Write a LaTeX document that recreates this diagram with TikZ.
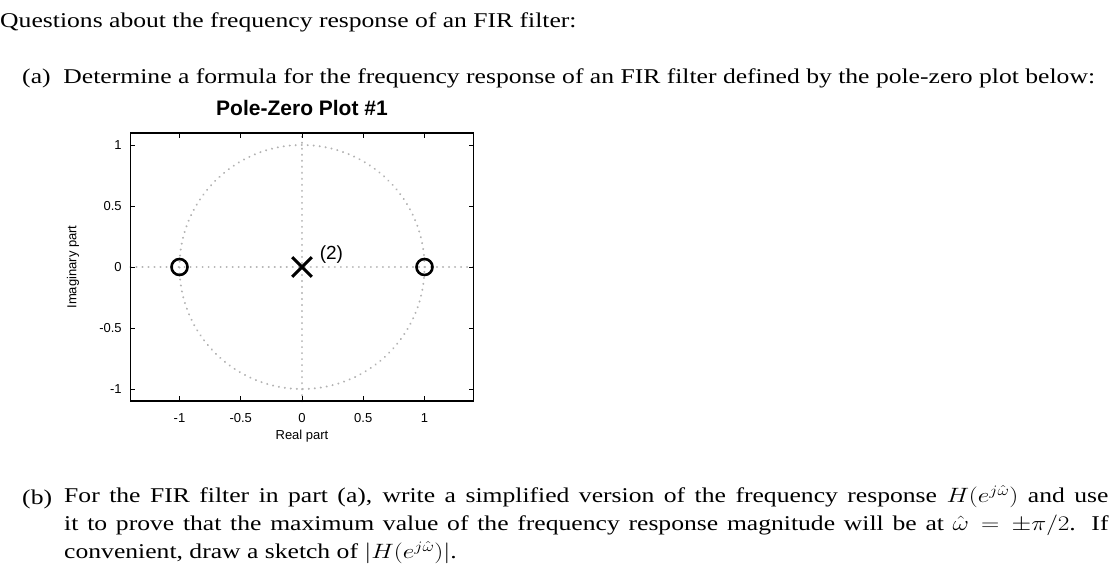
\documentclass[tikz,border=0pt]{standalone}
\usepackage{fontspec}
\setmainfont{Liberation Serif}
\newfontfamily\plotfont{Liberation Sans}
\begin{document}
\begin{tikzpicture}[x=1pt,y=-1pt,
  body/.style={inner sep=0pt,anchor=base west,font=\fontsize{21}{28}\selectfont,xscale=1.22,transform shape},
  tick/.style={font=\plotfont\fontsize{13}{15}\selectfont,inner sep=0pt},
  grid/.style={gray!60,line width=2.2pt,dash pattern=on 0.01pt off 6pt,line cap=round}]
\useasboundingbox (0,0) rectangle (1114,575);
\node[body] (q) at (0,28) {Questions about the frequency response of an FIR filter:};
\node[body] (a) at (22,84) {(a)\hspace{0.5em}Determine a formula for the frequency response of an FIR filter defined by the pole-zero plot below:};
\node[font=\plotfont\bfseries\fontsize{21}{24}\selectfont,inner sep=0pt] (title) at (302,108) {Pole-Zero Plot \#1};
% axes: center (302,267), scale 122.5
\begin{scope}[shift={(302,267)},x=122.5pt,y=122pt]
 \draw[grid] (0,0) circle (1);
 \draw[grid] (-1.4,0) -- (1.4,0);
 \draw[grid] (0,-1.1) -- (0,1.1);
 \draw[line width=1.5pt] (-1.4,-1.1) rectangle (1.4,1.1);
 \foreach \v in {-1,-0.5,0,0.5,1}{
   \draw[line width=0.8pt] (\v,-1.1) -- ++(0,0.04) (\v,1.1) -- ++(0,-0.04);
   \draw[line width=0.8pt] (-1.4,\v) -- ++(0.04,0) (1.4,\v) -- ++(-0.04,0);
   \node[tick] at (\v,-1.24) {\v};
   \node[tick,anchor=east] at (-1.47,\v) {\v};
 }
 \node[tick] (xl) at (0,-1.39) {Real part};
 \node[tick,rotate=90] (yl) at (-1.87,0) {Imaginary part};
 \draw[line width=2.6pt] (-1,0) circle (8pt) (1,0) circle (8pt);
 \draw[line width=3pt] (-0.08,-0.08) -- (0.08,0.08) (-0.08,0.08) -- (0.08,-0.08);
 \node[font=\plotfont\fontsize{19}{22}\selectfont,inner sep=0pt] (m) at (0.24,0.1) {(2)};
\end{scope}
\node[body] (b) at (22,504) {(b)};
\node[body,anchor=north west] (bt) at (64,485) {\parbox[t]{856pt}{\fontsize{21}{28}\selectfont
For the FIR filter in part (a), write a simplified version of the frequency response $H(e^{j\hat\omega})$ and use\linebreak it to prove that the maximum value of the frequency response magnitude will be at $\hat\omega=\pm\pi/2$. If\linebreak convenient, draw a sketch of $|H(e^{j\hat\omega})|$.}};
\end{tikzpicture}
\end{document}
